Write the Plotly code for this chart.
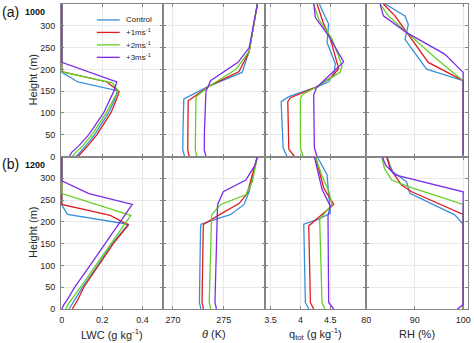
import plotly.graph_objects as go

# ---------------- data ----------------
SERIES_NAMES = ["Control", "+1ms<sup>-1</sup>", "+2ms<sup>-1</sup>", "+3ms<sup>-1</sup>"]
SERIES_COLORS = ["#3a8fdc", "#dc1e1e", "#62d025", "#7b2de6"]
ROW_TAGS = ["(a)", "(b)"]
ROW_TIMES = ["1000", "1200"]
X_TITLES = ["LWC (g kg<sup>-1</sup>)", "<i>θ</i> (K)", "q<sub>tot</sub> (g kg<sup>-1</sup>)", "RH (%)"]
X_RANGES = [[-0.004, 0.5], [269, 279], [3.4, 5.1], [80, 101]]
X_TICKVALS = [[0, 0.2, 0.4], [270, 275], [3.5, 4, 4.5], [80, 90, 100]]
X_TICKTEXT = [["0", "0.2", "0.4"], ["270", "275"], ["3.5", "4", "4.5"], ["80", "90", "100"]]
Y_TICKVALS = [0, 50, 100, 150, 200, 250, 300]

# ---- (a) 1000 : LWC ----
LWC_A_CTRL_H = [0, 10, 25, 50, 100, 130, 151, 171, 193, 350]
LWC_A_CTRL_V = [0.07, 0.09, 0.12, 0.163, 0.231, 0.262, 0.275, 0.08, 0, 0]
LWC_A_P1_H = [0, 10, 25, 50, 100, 130, 149, 171, 195, 350]
LWC_A_P1_V = [0.08, 0.10, 0.13, 0.174, 0.243, 0.27, 0.284, 0.223, 0, 0]
LWC_A_P2_H = [0, 10, 25, 50, 100, 130, 151, 169, 194, 350]
LWC_A_P2_V = [0.052, 0.07, 0.105, 0.15, 0.22, 0.255, 0.279, 0.25, 0, 0]
LWC_A_P3_H = [0, 10, 25, 50, 100, 130, 150, 171, 216, 350]
LWC_A_P3_V = [0.036, 0.05, 0.085, 0.134, 0.207, 0.24, 0.258, 0.272, 0, 0]

# ---- (a) 1000 : theta ----
TH_A_CTRL_H = [0, 15, 60, 132, 162, 193, 242, 350]
TH_A_CTRL_V = [271.15, 270.97, 270.99, 271.07, 273.6, 276.8, 277.5, 278.3]
TH_A_P1_H = [0, 15, 60, 128, 162, 195, 242, 350]
TH_A_P1_V = [271.6, 271.46, 271.47, 271.5, 273.6, 276.5, 277.5, 278.3]
TH_A_P2_H = [0, 15, 60, 137, 162, 200, 242, 350]
TH_A_P2_V = [272.35, 272.2, 272.22, 272.27, 273.6, 276.2, 277.5, 278.3]
TH_A_P3_H = [0, 15, 60, 150, 174, 216, 250, 350]
TH_A_P3_V = [273.25, 273.08, 273.1, 273.25, 273.7, 276.4, 277.5, 278.3]

# ---- (a) 1000 : q_tot ----
Q_A_CTRL_H = [0, 20, 126, 137.5, 160, 171.5, 194, 213, 262, 304, 345, 350]
Q_A_CTRL_V = [3.778, 3.711, 3.678, 3.806, 4.278, 4.472, 4.567, 4.583, 4.444, 4.472, 4.333, 4.32]
Q_A_P1_H = [0, 17, 126, 135, 160, 183, 202, 270, 308, 350]
Q_A_P1_V = [3.9, 3.806, 3.789, 3.833, 4.278, 4.528, 4.639, 4.5, 4.378, 4.278]
Q_A_P2_H = [0, 20, 134, 143, 160, 194, 209, 270, 315, 350]
Q_A_P2_V = [4.044, 4.0, 4.0, 4.044, 4.278, 4.667, 4.694, 4.528, 4.306, 4.222]
Q_A_P3_H = [0, 20, 141, 158, 217, 277, 319, 350]
Q_A_P3_V = [4.278, 4.233, 4.222, 4.267, 4.722, 4.472, 4.25, 4.222]

# ---- (a) 1000 : RH ----
RH_A_CTRL_H = [0, 174, 200.6, 269, 284.4, 303.6, 322.7, 350]
RH_A_CTRL_V = [100, 100, 92.45, 88.0, 88.33, 88.68, 88.0, 83.9]
RH_A_P1_H = [0, 174, 216, 284.4, 322.7, 350]
RH_A_P1_V = [100, 100, 92.8, 88.33, 85.93, 83.54]
RH_A_P2_H = [0, 174, 227, 284.4, 322.7, 350]
RH_A_P2_V = [100, 100, 94.16, 88.33, 84.57, 82.86]
RH_A_P3_H = [0, 193, 235, 284.4, 322.7, 350]
RH_A_P3_V = [100, 100, 96.2, 88.33, 83.54, 82.86]

# ---- (b) 1200 : LWC ----
LWC_B_CTRL_H = [0, 10, 20, 50, 100, 150, 194.5, 217, 238.6, 350]
LWC_B_CTRL_V = [0.036, 0.05, 0.065, 0.103, 0.178, 0.25, 0.329, 0.028, 0, 0]
LWC_B_P1_H = [0, 10, 20, 50, 100, 150, 193, 215, 240, 350]
LWC_B_P1_V = [0.052, 0.065, 0.078, 0.109, 0.183, 0.255, 0.33, 0.24, 0, 0]
LWC_B_P2_H = [0, 10, 20, 50, 100, 150, 200, 215, 265, 350]
LWC_B_P2_V = [0.02, 0.03, 0.045, 0.093, 0.168, 0.242, 0.318, 0.342, 0, 0]
LWC_B_P3_H = [0, 10, 20, 50, 100, 150, 200, 240, 265, 294, 350]
LWC_B_P3_V = [0, 0.01, 0.025, 0.064, 0.14, 0.215, 0.29, 0.349, 0.134, 0, 0]

# ---- (b) 1200 : theta ----
TH_B_CTRL_H = [0, 15, 190, 194.5, 208, 217, 240, 269, 350]
TH_B_CTRL_V = [272.75, 272.6, 272.72, 272.76, 274.48, 275.69, 277.0, 277.48, 278.3]
TH_B_P1_H = [0, 15, 190, 194, 216, 242, 265, 350]
TH_B_P1_V = [273.0, 272.86, 272.98, 273.0, 274.55, 276.5, 277.3, 278.3]
TH_B_P2_H = [0, 15, 212, 217, 240, 262, 292, 350]
TH_B_P2_V = [273.72, 273.57, 273.8, 273.83, 274.7, 277.16, 277.8, 278.3]
TH_B_P3_H = [0, 15, 235, 240, 269, 296, 330, 350]
TH_B_P3_V = [274.28, 274.13, 274.38, 274.4, 274.94, 277.16, 278.07, 278.3]

# ---- (b) 1200 : q_tot ----
Q_B_CTRL_H = [0, 15, 194.5, 206, 220, 274.6, 309, 350]
Q_B_CTRL_V = [4.139, 4.083, 4.056, 4.306, 4.5, 4.472, 4.444, 4.278]
Q_B_P1_H = [0, 15, 190.7, 240, 278, 305, 350]
Q_B_P1_V = [4.222, 4.167, 4.139, 4.556, 4.389, 4.333, 4.25]
Q_B_P2_H = [0, 15, 206, 240, 271, 305, 350]
Q_B_P2_V = [4.406, 4.361, 4.322, 4.528, 4.472, 4.361, 4.25]
Q_B_P3_H = [0, 15, 213.6, 236, 274.6, 320, 350]
Q_B_P3_V = [4.556, 4.472, 4.461, 4.5, 4.361, 4.278, 4.233]

# ---- (b) 1200 : RH ----
RH_B_CTRL_H = [0, 194.4, 216, 265.4, 292, 315, 330, 350]
RH_B_CTRL_V = [100, 100, 98.27, 89.0, 88.33, 85.5, 84.9, 84.3]
RH_B_P1_H = [0, 217, 269, 284.5, 322.6, 350]
RH_B_P1_V = [100, 100, 89.36, 87.3, 84.9, 84.2]
RH_B_P2_H = [0, 240, 280.7, 296, 322.6, 350]
RH_B_P2_V = [100, 100, 88.68, 85.25, 83.75, 83.2]
RH_B_P3_H = [0, 10, 269, 296, 307.6, 330, 350]
RH_B_P3_V = [98.8, 100, 100, 89.7, 85.93, 84.0, 83.3]

PANELS = [
    [  # row (a)
        [(LWC_A_CTRL_V, LWC_A_CTRL_H), (LWC_A_P1_V, LWC_A_P1_H), (LWC_A_P2_V, LWC_A_P2_H), (LWC_A_P3_V, LWC_A_P3_H)],
        [(TH_A_CTRL_V, TH_A_CTRL_H), (TH_A_P1_V, TH_A_P1_H), (TH_A_P2_V, TH_A_P2_H), (TH_A_P3_V, TH_A_P3_H)],
        [(Q_A_CTRL_V, Q_A_CTRL_H), (Q_A_P1_V, Q_A_P1_H), (Q_A_P2_V, Q_A_P2_H), (Q_A_P3_V, Q_A_P3_H)],
        [(RH_A_CTRL_V, RH_A_CTRL_H), (RH_A_P1_V, RH_A_P1_H), (RH_A_P2_V, RH_A_P2_H), (RH_A_P3_V, RH_A_P3_H)],
    ],
    [  # row (b)
        [(LWC_B_CTRL_V, LWC_B_CTRL_H), (LWC_B_P1_V, LWC_B_P1_H), (LWC_B_P2_V, LWC_B_P2_H), (LWC_B_P3_V, LWC_B_P3_H)],
        [(TH_B_CTRL_V, TH_B_CTRL_H), (TH_B_P1_V, TH_B_P1_H), (TH_B_P2_V, TH_B_P2_H), (TH_B_P3_V, TH_B_P3_H)],
        [(Q_B_CTRL_V, Q_B_CTRL_H), (Q_B_P1_V, Q_B_P1_H), (Q_B_P2_V, Q_B_P2_H), (Q_B_P3_V, Q_B_P3_H)],
        [(RH_B_CTRL_V, RH_B_CTRL_H), (RH_B_P1_V, RH_B_P1_H), (RH_B_P2_V, RH_B_P2_H), (RH_B_P3_V, RH_B_P3_H)],
    ],
]

# ---------------- layout geometry ----------------
W, H = 474, 343
ML, MR, MT, MB = 61, 4, 3, 34
PW, PH = W - ML - MR, H - MT - MB
FONT = "Liberation Sans, Arial, sans-serif"
TXT = "#262626"
AXC = "#858585"
GRID = "#e9e9e9"


def pxx(x):
    return (x - ML) / PW


def pxy(y):
    return (H - MB - y) / PH


fig = go.Figure()
layout = {}
for r in range(2):
    for c in range(4):
        n = r * 4 + c + 1
        sfx = "" if n == 1 else str(n)
        for s in range(4):
            xv, hv = PANELS[r][c][s]
            fig.add_trace(go.Scatter(
                x=xv, y=hv, mode="lines", xaxis="x" + sfx, yaxis="y" + sfx,
                line=dict(color=SERIES_COLORS[s], width=1.3), showlegend=False,
                name=SERIES_NAMES[s], hoverinfo="skip"))
        common = dict(showline=True, linecolor=AXC, linewidth=1, mirror="ticks",
                      ticks="inside", ticklen=3, tickcolor=AXC, tickwidth=1,
                      showgrid=True, gridcolor=GRID, gridwidth=1, zeroline=False,
                      tickfont=dict(family=FONT, size=9, color=TXT))
        layout["xaxis" + sfx] = dict(common, domain=[c / 4, (c + 1) / 4], anchor="y" + sfx,
                                     range=X_RANGES[c], tickmode="array",
                                     tickvals=X_TICKVALS[c], ticktext=X_TICKTEXT[c],
                                     showticklabels=(r == 1), ticklabelstandoff=2)
        layout["yaxis" + sfx] = dict(common, domain=[0.5, 1] if r == 0 else [0, 0.5],
                                     anchor="x" + sfx, range=[0, 350], tickmode="array",
                                     tickvals=Y_TICKVALS, showticklabels=(c == 0),
                                     ticklabelstandoff=3)

annotations = []
shapes = []
row_top_px = [MT, MT + PH / 2]
for r in range(2):
    annotations.append(dict(xref="paper", yref="paper", x=pxx(0), y=pxy(row_top_px[r] + 8),
                            xanchor="left", yanchor="middle", showarrow=False,
                            text=ROW_TAGS[r], font=dict(family=FONT, size=14, color="#111")))
    annotations.append(dict(xref="paper", yref="paper", x=pxx(23), y=pxy(row_top_px[r] + 8.5),
                            xanchor="left", yanchor="middle", showarrow=False,
                            text="<b>" + ROW_TIMES[r] + "</b>",
                            font=dict(family=FONT, size=9, color="#111")))
    annotations.append(dict(xref="paper", yref="paper", x=pxx(33),
                            y=pxy(row_top_px[r] + PH / 4), xanchor="center", yanchor="middle",
                            textangle=-90, showarrow=False, text="Height (m)",
                            font=dict(family=FONT, size=11, color=TXT)))
for c in range(4):
    annotations.append(dict(xref="paper", yref="paper", x=(c + 0.5) / 4, y=pxy(334),
                            xanchor="center", yanchor="middle", showarrow=False,
                            text=X_TITLES[c], font=dict(family=FONT, size=11, color=TXT)))

# legend (inside first panel)
leg_y = [19, 31.5, 44, 56.5]
for s in range(4):
    shapes.append(dict(type="line", xref="paper", yref="paper", x0=pxx(97), x1=pxx(120),
                       y0=pxy(leg_y[s]), y1=pxy(leg_y[s]),
                       line=dict(color=SERIES_COLORS[s], width=1.3)))
    annotations.append(dict(xref="paper", yref="paper", x=pxx(124), y=pxy(leg_y[s]),
                            xanchor="left", yanchor="middle", showarrow=False,
                            text=SERIES_NAMES[s], font=dict(family=FONT, size=8, color=TXT)))

fig.update_layout(
    width=W, height=H, margin=dict(l=ML, r=MR, t=MT, b=MB, pad=0),
    paper_bgcolor="white", plot_bgcolor="white", showlegend=False,
    annotations=annotations, shapes=shapes, **layout)

fig.write_html("out.html")
